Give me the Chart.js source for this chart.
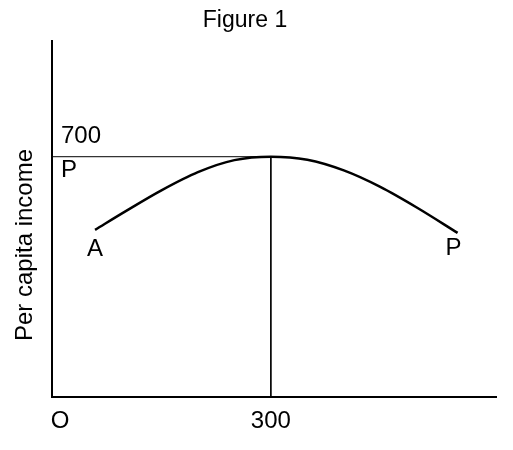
<!DOCTYPE html>
<html>
<head>
<meta charset="utf-8">
<script src="https://cdn.jsdelivr.net/npm/chart.js@4"></script>
<style>
  html, body { margin: 0; padding: 0; background: #fff; }
  #wrap { width: 513px; height: 450px; }
</style>
</head>
<body>
<div id="wrap"><canvas id="c"></canvas></div>
<script>
// Curve "AP" (population on x, per capita income on y)
const curveX = [59, 100, 150, 200, 250, 300, 350, 400, 450, 500, 556];
const curveY = [487, 540, 602, 655, 690, 700, 691, 660, 612, 552, 478];
const peakX = 300;
const peakY = 700;
const xMax = 610;
const yMax = 1040;

const FONT = '"Liberation Sans", Arial, sans-serif';

const annotations = {
  id: 'annotations',
  afterDraw(chart) {
    const ctx = chart.ctx;
    const a = chart.chartArea;
    const xs = chart.scales.x, ys = chart.scales.y;
    ctx.save();
    // axes
    ctx.strokeStyle = '#000';
    ctx.lineWidth = 2;
    ctx.beginPath();
    ctx.moveTo(a.left, a.top);
    ctx.lineTo(a.left, a.bottom);
    ctx.lineTo(a.right, a.bottom);
    ctx.stroke();

    ctx.fillStyle = '#000';
    ctx.font = '24px ' + FONT;
    ctx.textBaseline = 'middle';
    ctx.textAlign = 'left';
    const px = xs.getPixelForValue(peakX);
    const py = ys.getPixelForValue(peakY);
    ctx.fillText(String(peakY), a.left + 9, py - 20);
    ctx.fillText('P', a.left + 9, py + 14);
    ctx.textAlign = 'center';
    ctx.fillText('A', xs.getPixelForValue(curveX[0]), ys.getPixelForValue(curveY[0]) + 20);
    ctx.fillText('P', xs.getPixelForValue(curveX[curveX.length - 1]) - 4, ys.getPixelForValue(curveY[curveY.length - 1]) + 15);
    ctx.fillText('O', a.left + 8, a.bottom + 24);
    ctx.fillText(String(peakX), px, a.bottom + 24);
    ctx.font = '23px ' + FONT;
    ctx.fillText('Figure 1', 245, 21);

    ctx.font = '24px ' + FONT;
    ctx.translate(25, 245);
    ctx.rotate(-Math.PI / 2);
    ctx.fillText('Per capita income', 0, 0);
    ctx.restore();
  }
};

new Chart(document.getElementById('c'), {
  type: 'line',
  data: {
    datasets: [
      {
        data: curveX.map((x, i) => ({ x: x, y: curveY[i] })),
        borderColor: '#000',
        borderWidth: 2.5,
        pointRadius: 0,
        tension: 0.4,
        cubicInterpolationMode: 'monotone'
      },
      {
        data: [{ x: 0, y: peakY }, { x: peakX, y: peakY }, { x: peakX, y: 0 }],
        borderColor: '#000',
        borderWidth: 1,
        pointRadius: 0,
        tension: 0
      }
    ]
  },
  options: {
    responsive: true,
    maintainAspectRatio: false,
    animation: false,
    layout: { padding: { left: 52, right: 16, top: 40, bottom: 53 } },
    plugins: { legend: { display: false }, tooltip: { enabled: false } },
    scales: {
      x: { type: 'linear', min: 0, max: xMax, display: false },
      y: { type: 'linear', min: 0, max: yMax, display: false }
    }
  },
  plugins: [annotations]
});
</script>
</body>
</html>
